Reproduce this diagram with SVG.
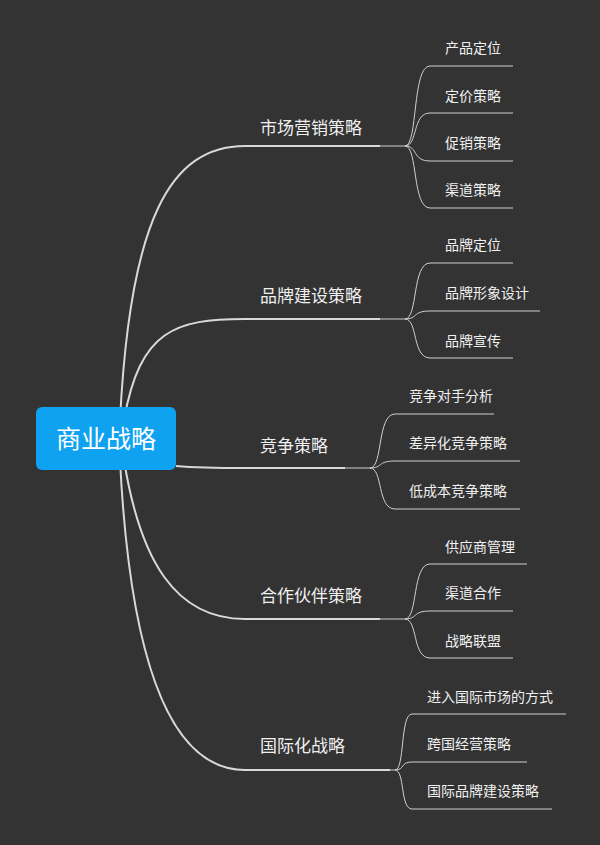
<svg xmlns="http://www.w3.org/2000/svg" width="600" height="845" viewBox="0 0 600 845">
<style>
.m{fill:none;stroke:#d9d9d9;stroke-width:2}
.l{fill:none;stroke:#d0d0d0;stroke-width:1}
text{font-family:"Noto Sans CJK SC","Noto Sans",sans-serif;fill:#f0f0f0}
.b{font-size:17px}
.c{font-size:14px}
</style>
<rect width="600" height="845" fill="#333333"/>
<g id="connectors">
<path class="m" d="M120,420 C130,220 170,146 245,146 H380"/>
<path class="m" d="M124,420 C140,330 175,319 245,319 H380"/>
<path class="m" d="M176,466 C200,468 220,468 245,468 H345"/>
<path class="m" d="M124,460 C140,560 175,619 245,619 H380"/>
<path class="m" d="M120,460 C130,660 170,770 245,770 H390"/>
<path class="l" d="M380,146 H405 M405,146 C418,146 412,66 430,66 H513 M405,146 C418,146 412,113 430,113 H513 M405,146 C418,146 412,161 430,161 H513 M405,146 C418,146 412,208 430,208 H513"/>
<path class="l" d="M380,319 H405 M405,319 C418,319 412,263 430,263 H513 M405,319 C418,319 412,311 430,311 H540 M405,319 C418,319 412,358 430,358 H513"/>
<path class="l" d="M345,468 H370 M370,468 C383,468 377,414 395,414 H494 M370,468 C383,468 377,461 395,461 H520 M370,468 C383,468 377,509 395,509 H520"/>
<path class="l" d="M380,619 H405 M405,619 C418,619 412,564 430,564 H527 M405,619 C418,619 412,611 430,611 H513 M405,619 C418,619 412,658 430,658 H513"/>
<path class="l" d="M390,770 H395 M395,770 C405,770 400,714 412,714 H566 M395,770 C405,770 400,762 412,762 H527 M395,770 C405,770 400,809 412,809 H552"/>
</g>
<g id="root"><rect x="36" y="407" width="140" height="63" rx="6" fill="#0ea2f0"/><text x="106" y="448" text-anchor="middle" style="font-size:25px;fill:#fff">商业战略</text></g>
<g id="b1"><text class="b" x="260" y="134">市场营销策略</text></g>
<g id="b2"><text class="b" x="260" y="302">品牌建设策略</text></g>
<g id="b3"><text class="b" x="260" y="452">竞争策略</text></g>
<g id="b4"><text class="b" x="260" y="602">合作伙伴策略</text></g>
<g id="b5"><text class="b" x="260" y="752">国际化战略</text></g>
<g id="leaves">
<text class="c" x="445" y="53">产品定位</text>
<text class="c" x="445" y="101">定价策略</text>
<text class="c" x="445" y="148">促销策略</text>
<text class="c" x="445" y="195">渠道策略</text>
<text class="c" x="445" y="250">品牌定位</text>
<text class="c" x="445" y="298">品牌形象设计</text>
<text class="c" x="445" y="346">品牌宣传</text>
<text class="c" x="409" y="401">竞争对手分析</text>
<text class="c" x="409" y="448">差异化竞争策略</text>
<text class="c" x="409" y="496">低成本竞争策略</text>
<text class="c" x="445" y="552">供应商管理</text>
<text class="c" x="445" y="598">渠道合作</text>
<text class="c" x="445" y="646">战略联盟</text>
<text class="c" x="427" y="702">进入国际市场的方式</text>
<text class="c" x="427" y="749">跨国经营策略</text>
<text class="c" x="427" y="796">国际品牌建设策略</text>
</g>
</svg>
